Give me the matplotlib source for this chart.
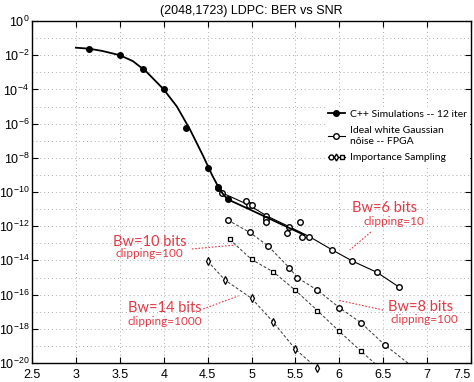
import numpy as np
import matplotlib
matplotlib.use("Agg")
import matplotlib.pyplot as plt
from matplotlib.lines import Line2D
from matplotlib.legend_handler import HandlerTuple
from matplotlib.ticker import LogLocator, NullFormatter

# ---- data (log10 of BER) ----
cpp_x = [3.15, 3.5, 3.76, 4.0, 4.25, 4.5, 4.62, 4.73]
cpp_y = [-1.65, -2.0, -2.82, -3.99, -6.26, -8.58, -9.78, -10.43]
# fitted curve drawn through the C++ points
cpp_fit_x = [3.0, 3.15, 3.3, 3.5, 3.65, 3.8, 4.0, 4.15, 4.3, 4.45, 4.55, 4.63, 4.68, 4.73, 5.0, 5.3, 5.6]
cpp_fit_y = [-1.56, -1.62, -1.75, -2.0, -2.35, -2.95, -4.0, -5.0, -6.35, -7.9, -9.0, -9.78, -10.15, -10.43, -11.07, -11.79, -12.51]

fpga_x = [4.66, 4.97, 5.17, 5.43, 5.66, 5.92, 6.15, 6.43, 6.68]
fpga_y = [-10.04, -10.76, -11.39, -12.03, -12.61, -13.39, -14.04, -14.70, -15.56]

bw6_x = [4.62, 4.94, 5.0, 5.17, 5.17, 5.4, 5.55, 5.57]
bw6_y = [-9.73, -10.53, -10.76, -11.6, -11.77, -12.38, -11.77, -12.61]

bw8_x = [4.73, 4.98, 5.19, 5.43, 5.52, 5.75, 6.0, 6.25, 6.52, 6.78]
bw8_y = [-11.64, -12.36, -13.16, -14.43, -15.0, -15.74, -16.76, -17.66, -18.95, -20.0]

bw10_x = [4.75, 5.0, 5.25, 5.5, 5.75, 6.0, 6.25, 6.40]
bw10_y = [-12.77, -13.94, -14.68, -15.75, -16.93, -18.15, -19.32, -20.0]

bw14_x = [4.5, 4.7, 5.0, 5.25, 5.5, 5.75]
bw14_y = [-14.04, -15.16, -16.21, -17.62, -19.20, -20.31]

xticks = [2.5, 3, 3.5, 4, 4.5, 5, 5.5, 6, 6.5, 7, 7.5]

red = "#e23a45"
p10 = lambda v: np.power(10.0, v)

plt.rcParams["font.family"] = ["Liberation Sans", "DejaVu Sans"]
plt.rcParams["mathtext.fontset"] = "custom"
plt.rcParams["mathtext.rm"] = "Liberation Sans"
plt.rcParams["mathtext.it"] = "Liberation Sans"

fig = plt.figure(figsize=(4.74, 3.82), dpi=100)
ax = fig.add_axes([32 / 474, 1 - 363 / 382, 439 / 474, 342 / 382])

ax.plot(cpp_fit_x, p10(cpp_fit_y), "-", color="black", lw=1.3, zorder=4)
ax.plot(cpp_x, p10(cpp_y), "o", color="black", ms=4, zorder=5)

ax.plot(fpga_x, p10(fpga_y), "-o", color="black", lw=0.8, ms=4, mfc="white", mew=1.0, zorder=3)
ax.plot(bw6_x, p10(bw6_y), "o", color="black", ms=4, mfc="white", mew=1.0, zorder=3)

ax.plot(bw8_x[:-1], p10(bw8_y[:-1]), "o", color="black", ms=4, mfc="white", mew=1.0, zorder=3)
ax.plot(bw8_x, p10(bw8_y), "--", color="#333333", lw=0.7, dashes=(3, 2), zorder=2)
ax.plot(bw10_x[:-1], p10(bw10_y[:-1]), "s", color="black", ms=3.2, mfc="white", mew=0.9, zorder=3)
ax.plot(bw10_x, p10(bw10_y), "--", color="#333333", lw=0.7, dashes=(3, 2), zorder=2)
ax.plot(bw14_x, p10(bw14_y), "--", color="#333333", lw=0.7, dashes=(3, 2), zorder=2)
ax.plot(bw14_x, p10(bw14_y), "d", color="black", ms=4, mfc="white", mew=0.9, clip_on=False, zorder=3)

ax.set_yscale("log")
ax.set_xlim(2.5, 7.5)
ax.set_ylim(1e-20, 1e0)
ax.set_xticks(xticks)
ax.set_xticklabels([f"{t:g}" for t in xticks])
ax.get_xticklabels()[-1].set_horizontalalignment("right")
ax.yaxis.set_major_locator(LogLocator(base=100.0, numticks=20))
ax.yaxis.set_minor_locator(LogLocator(base=10.0, numticks=30))
ax.yaxis.set_minor_formatter(NullFormatter())
ax.tick_params(which="major", direction="in", length=4, top=True, right=True, labelsize=9, pad=2)
ax.tick_params(axis="x", pad=4)
ax.tick_params(which="minor", length=0)
ax.grid(True, which="both", ls=(0, (1, 3)), color="#aaaaaa", lw=0.7)
ax.set_axisbelow(True)
for s in ax.spines.values():
    s.set_linewidth(1.0)

ax.set_title("(2048,1723) LDPC: BER vs SNR", fontsize=9, pad=5)

# legend
mk = dict(color="black", lw=0.8, mfc="white", mew=1.0)
h1 = Line2D([], [], marker="o", color="black", lw=1.3, ms=4)
h2 = Line2D([], [], marker="o", ms=4, **mk)
h3 = (Line2D([], [], marker="o", ms=3.5, **mk), Line2D([], [], marker="d", ms=3.5, **mk),
      Line2D([], [], marker="s", ms=3, **mk))
leg = ax.legend([h1, h2, h3],
                ["C++ Simulations -- 12 iter", "Ideal white Gaussian\nnôise -- FPGA", "Importance Sampling"],
                handler_map={tuple: HandlerTuple(ndivide=None, pad=0)},
                loc="upper left", bbox_to_anchor=(0.655, 0.765), frameon=True, fancybox=False,
                edgecolor="none", facecolor="white", framealpha=1, handlelength=1.6,
                handletextpad=0.5, labelspacing=0.7, borderpad=0.3,
                prop={"family": ["Lato", "DejaVu Sans"], "size": 7.5})

# annotations
tf = ["Lato", "DejaVu Sans"]
notes = [
    ("Bw=6 bits", "clipping=10", (6.51, -10.95), (6.62, -11.7), (6.36, -12.34), (6.12, -13.39)),
    ("Bw=8 bits", "clipping=100", (6.93, -16.74), (6.97, -17.44), (6.50, -16.9), (5.98, -16.32)),
    ("Bw=10 bits", "clipping=100", (3.84, -12.9), (3.84, -13.58), (4.32, -13.33), (4.82, -13.1)),
    ("Bw=14 bits", "clipping=1000", (4.01, -16.8), (4.01, -17.58), (4.45, -16.84), (4.85, -16.08)),
]
for big, small, p1, p2, a, b in notes:
    ax.text(p1[0], p10(p1[1]), big, color=red, fontsize=10.5, family=tf, ha="center", va="center", zorder=6)
    ax.text(p2[0], p10(p2[1]), small, color=red, fontsize=8.5, family=tf, ha="center", va="center", zorder=6)
    ax.plot([a[0], b[0]], [p10(a[1]), p10(b[1])], ls=(0, (1.5, 1.5)), color=red, lw=0.8, zorder=6)

fig.savefig("out.png", dpi=100)
